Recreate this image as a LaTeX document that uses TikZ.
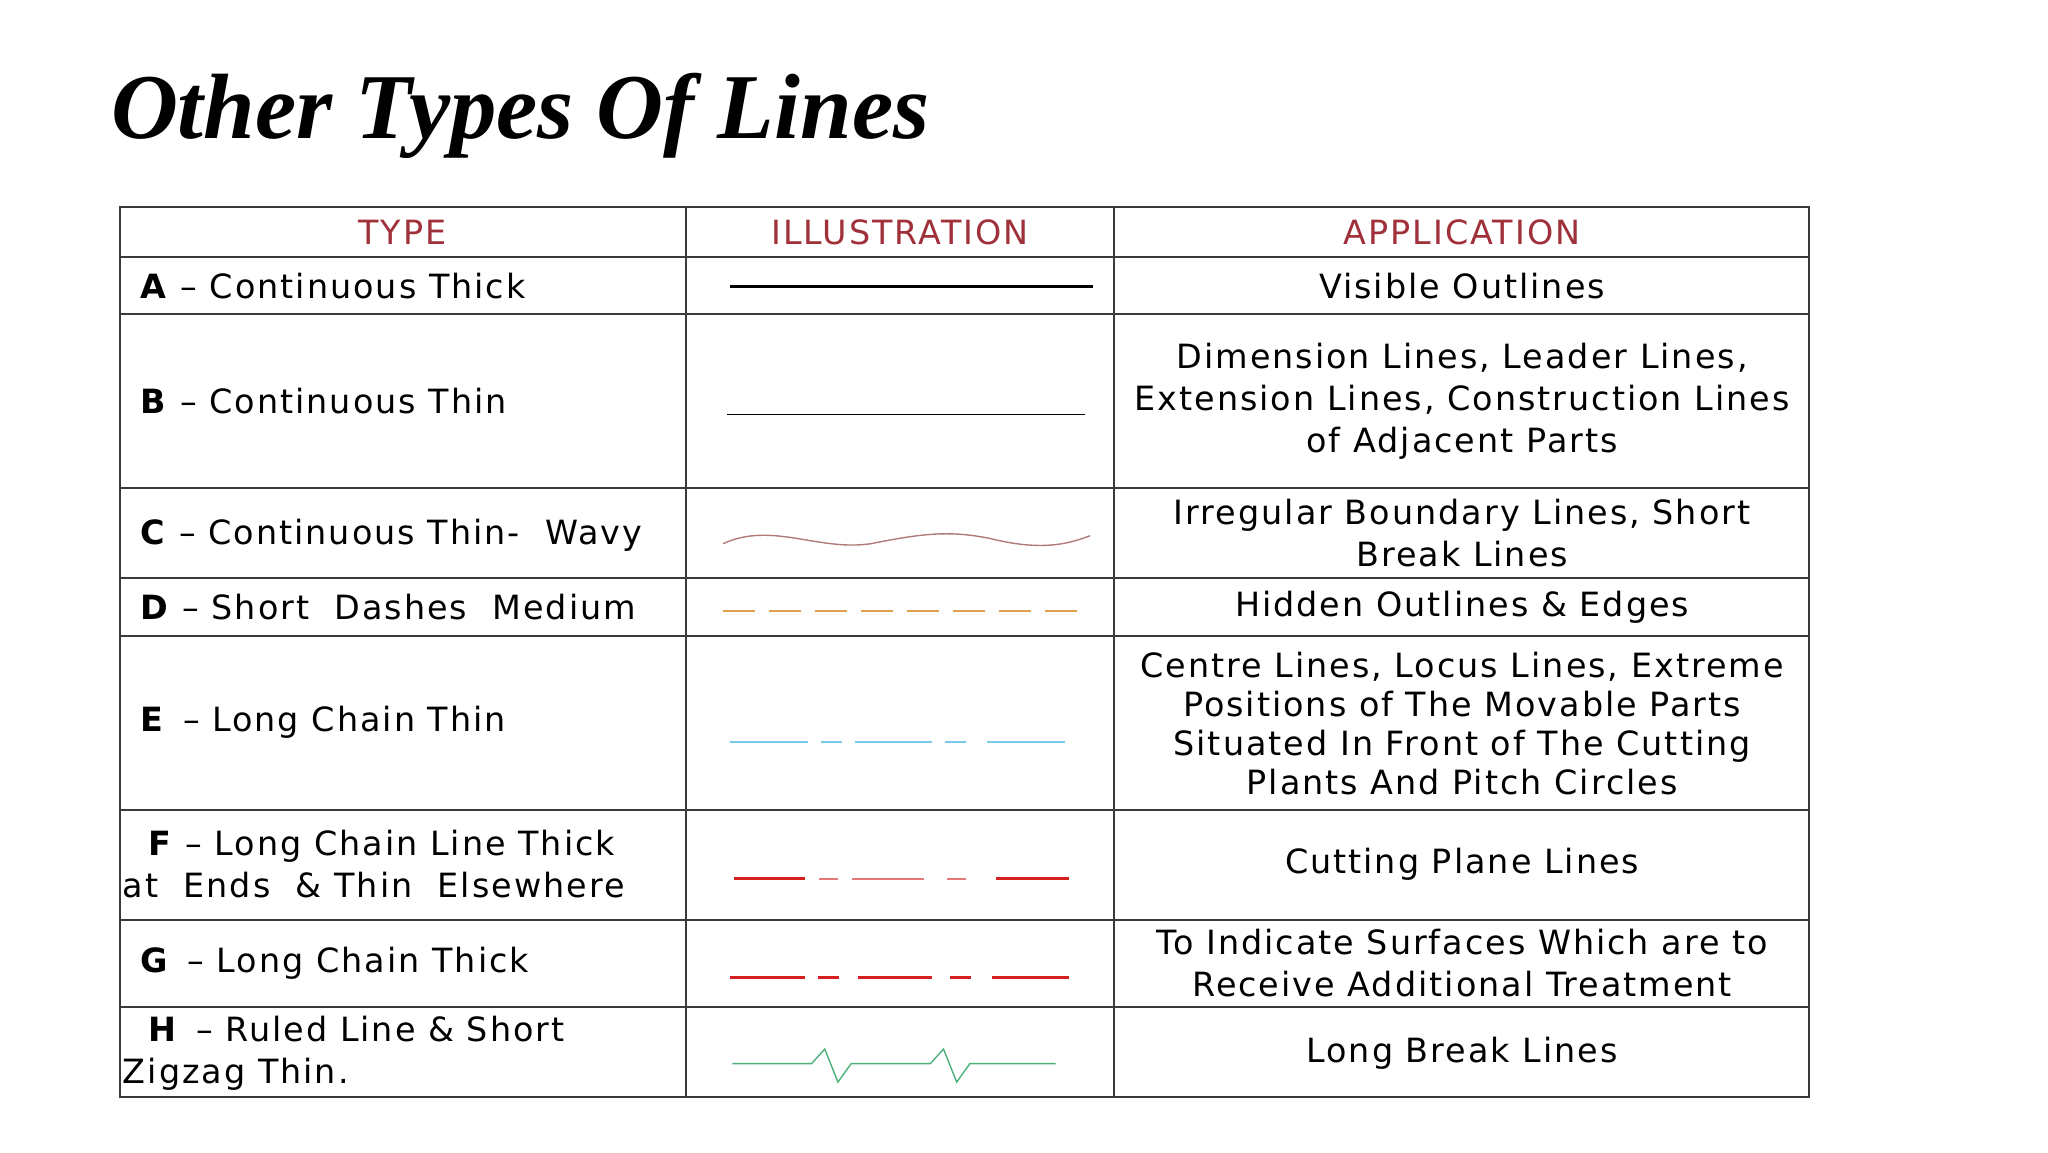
\documentclass[tikz,border=0pt]{standalone}
\usepackage{fontspec}
\setmainfont{DejaVu Sans}[LetterSpace=6]
\newfontfamily\titlefont{Liberation Serif}
\definecolor{hdr}{HTML}{A0303A}
\definecolor{grid}{HTML}{3A3A3A}
\definecolor{wavy}{HTML}{B07A7A}
\definecolor{dashor}{HTML}{E0A050}
\definecolor{ltblue}{HTML}{7CC8EA}
\definecolor{redl}{HTML}{D42020}
\definecolor{greenl}{HTML}{4CB07A}
\tikzset{txt/.style={font=\fontsize{36}{45}\selectfont, inner sep=0pt},
 hd/.style={txt, text=hdr},
 gridl/.style={draw=grid, line width=2pt}}
\begin{document}
\begin{tikzpicture}[x=0.05cm,y=-0.05cm]
\useasboundingbox (0,0) rectangle (1552,873);
\fill[white] (0,0) rectangle (1552,873);
\node[anchor=west, font=\titlefont\bfseries\itshape\fontsize{100}{110}\selectfont, inner sep=0pt] (title) at (84,88) {Other Types Of Lines};
% grid
\draw[gridl] (91,157) rectangle (1371,831);
\foreach \x in {520,844} \draw[gridl] (\x,157) -- (\x,831);
\foreach \y in {195,238,370,438,482,614,697,763} \draw[gridl] (91,\y) -- (1371,\y);
% headers
\node[hd] (h1) at (305,176) {TYPE};
\node[hd] (h2) at (682,176) {ILLUSTRATION};
\node[hd] (h3) at (1108,176) {APPLICATION};
% types
\node[txt,anchor=west] (a) at (106,217) {\textbf{A} – Continuous Thick};
\node[txt,anchor=west] (b) at (106,304) {\textbf{B} – Continuous Thin};
\node[txt,anchor=west] (c) at (106,406) {\textbf{C} – Continuous Thin-\ \ Wavy};
\node[txt,anchor=west] (d) at (106,460) {\textbf{D} – Short\ \ Dashes\ \ Medium};
\node[txt,anchor=west] (e) at (106,547) {\textbf{E} \,– Long Chain Thin};
\node[txt,anchor=west,align=left] (f) at (93,655) {\ \ \textbf{F} – Long Chain Line Thick\\at\ \ Ends\ \ \& Thin\ \ Elsewhere};
\node[txt,anchor=west] (g) at (106,730) {\textbf{G} \,– Long Chain Thick};
\node[txt,anchor=west,align=left] (h) at (93,798) {\ \ \textbf{H} \,– Ruled Line \& Short\\Zigzag Thin.};
% applications
\node[txt,align=center] (aa) at (1108,217) {Visible Outlines};
\node[txt,align=center] (ab) at (1108,304) {Dimension Lines, Leader Lines,\\Extension Lines, Construction Lines\\of Adjacent Parts};
\node[txt,align=center] (ac) at (1108,404) {Irregular Boundary Lines, Short\\Break Lines};
\node[txt,align=center] (ad) at (1108,460) {Hidden Outlines \& Edges};
\node[txt,align=center,font=\fontsize{36}{42}\selectfont] (ae) at (1108,548) {Centre Lines, Locus Lines, Extreme\\Positions of The Movable Parts\\Situated In Front of The Cutting\\Plants And Pitch Circles};
\node[txt,align=center] (af) at (1108,655) {Cutting Plane Lines};
\node[txt,align=center] (ag) at (1108,730) {To Indicate Surfaces Which are to\\Receive Additional Treatment};
\node[txt,align=center] (ah) at (1108,798) {Long Break Lines};
% illustrations
\draw[line width=4pt] (553,217) -- (828,217);
\draw[line width=1.3pt] (551,314) -- (822,314);
\draw[wavy, line width=1.5pt] (548,412) .. controls (585,395) and (620,418) .. (660,412) .. controls (700,404) and (720,402) .. (750,408) .. controls (790,418) and (810,412) .. (826,406);
\draw[dashor, line width=3pt, dash pattern=on 34pt off 15.6pt] (548,463) -- (817,463);
\draw[ltblue, line width=2pt] (553,562) -- (612,562) (622,562) -- (638,562) (648,562) -- (706,562) (716,562) -- (732,562) (748,562) -- (807,562);
\draw[redl, line width=3.5pt] (556,666) -- (610,666) (755,666) -- (810,666);
\draw[redl!60, line width=2pt] (621,666) -- (635,666) (646,666) -- (700,666) (718,666) -- (732,666);
\draw[redl, line width=3.5pt] (553,741) -- (610,741) (620,741) -- (636,741) (650,741) -- (706,741) (720,741) -- (736,741) (752,741) -- (810,741);
\draw[greenl, line width=1.5pt] (555,806) -- (615,806) -- (625,795) -- (635,820) -- (645,806) -- (705,806) -- (715,795) -- (725,820) -- (735,806) -- (800,806);
\end{tikzpicture}
\end{document}
